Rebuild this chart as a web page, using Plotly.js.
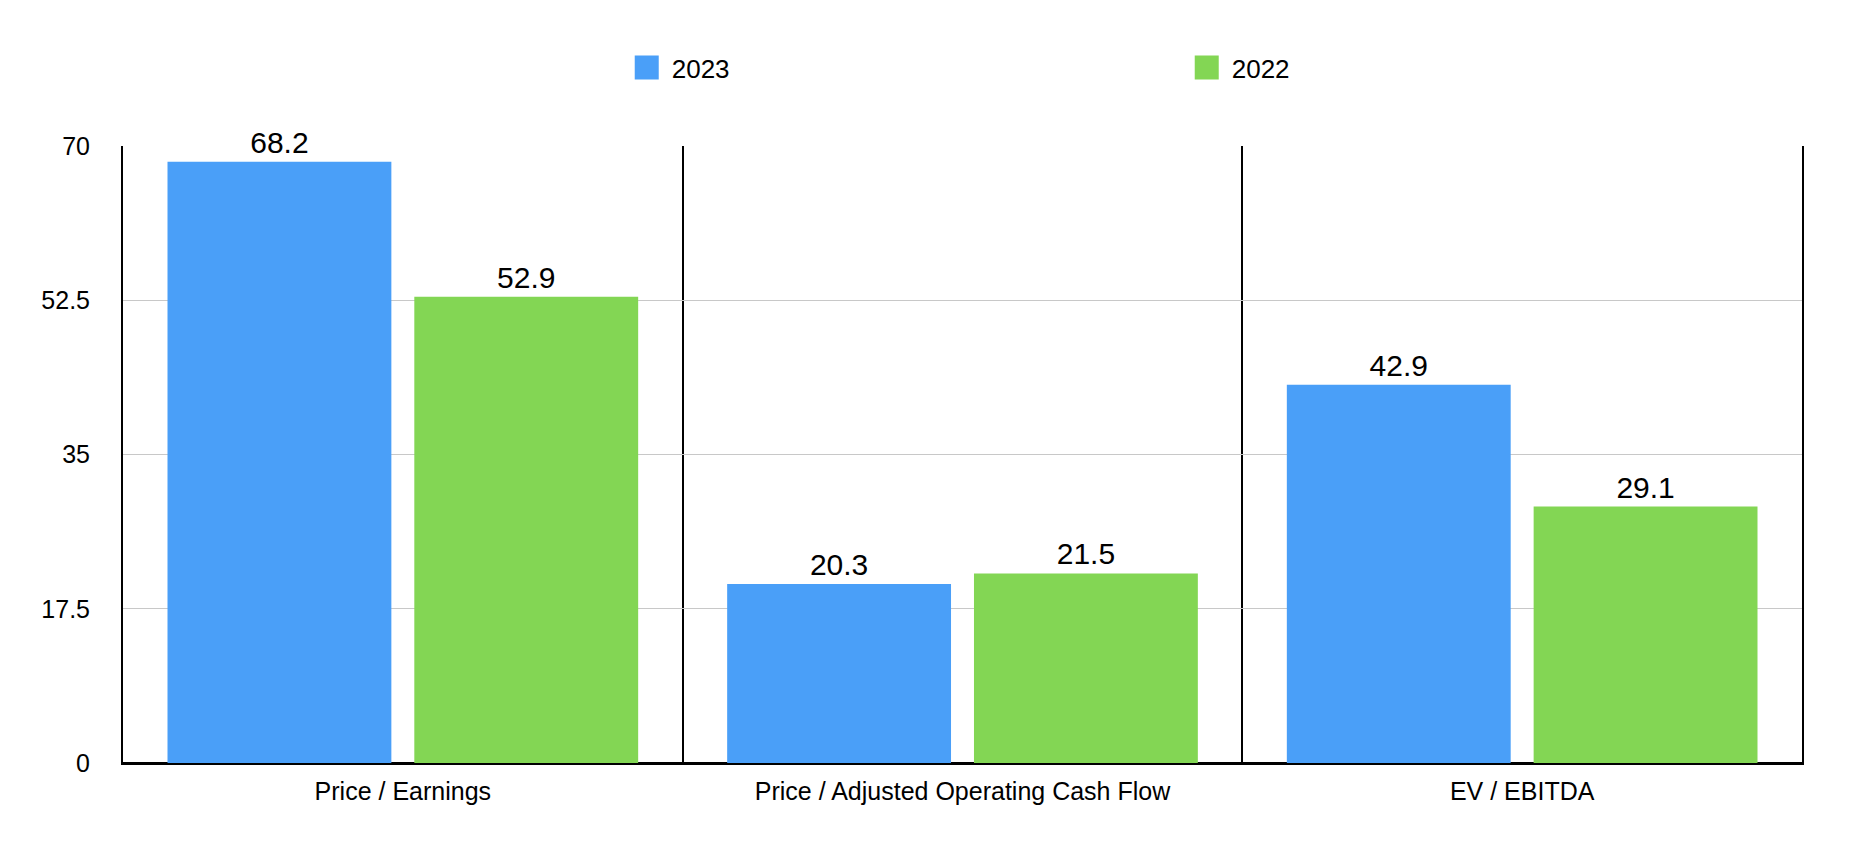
<!DOCTYPE html>
<html>
<head>
<meta charset="utf-8">
<script src="https://cdn.plot.ly/plotly-3.0.1.min.js"></script>
<style>
  html, body { margin: 0; padding: 0; background: #fff; }
  #chart { width: 1874px; height: 864px; }
  /* bigger legend swatches, like the original */
  #chart .legendpoints path { transform: translate(15px, 0px) scale(2); }
</style>
</head>
<body>
<div id="chart"></div>
<script>
'use strict';

// categories and values
var categories = ['Price / Earnings', 'Price / Adjusted Operating Cash Flow', 'EV / EBITDA'];
var values2023 = [68.2, 20.3, 42.9];
var values2022 = [52.9, 21.5, 29.1];
var yTicks = [0, 17.5, 35, 52.5, 70];

var blue = '#4a9ff8';
var green = '#83d654';
var font = 'Liberation Sans, Arial, Helvetica, sans-serif';

function barTrace(name, values, color) {
	return {
		type: 'bar',
		name: name,
		x: categories,
		y: values,
		marker: { color: color },
		text: values,
		texttemplate: '%{y:.1f}',
		textposition: 'outside',
		textfont: { family: font, size: 30, color: '#000' },
		cliponaxis: false,
		hoverinfo: 'skip'
	};
}

var data = [
	barTrace('2023', values2023, blue),
	barTrace('2022', values2022, green)
];

var layout = {
	width: 1874,
	height: 864,
	margin: { l: 123, r: 72, t: 146, b: 101 },
	paper_bgcolor: '#fff',
	plot_bgcolor: '#fff',
	font: { family: font, size: 25, color: '#000' },
	barmode: 'group',
	bargap: 0.118,
	bargroupgap: 0.093,
	showlegend: true,
	legend: {
		orientation: 'h',
		x: 0.303,
		xanchor: 'left',
		y: 1.127,
		yanchor: 'middle',
		entrywidth: 515,
		entrywidthmode: 'pixels',
		font: { family: font, size: 26, color: '#000' },
		traceorder: 'normal'
	},
	xaxis: {
		type: 'category',
		tickson: 'boundaries',
		showgrid: true,
		gridcolor: '#000',
		gridwidth: 2,
		showline: true,
		linecolor: '#000',
		linewidth: 2,
		ticks: '',
		ticklabelstandoff: 5,
		tickfont: { family: font, size: 25, color: '#000' }
	},
	yaxis: {
		range: [0, 70],
		tickvals: yTicks,
		showgrid: true,
		gridcolor: '#c8c8c8',
		gridwidth: 1,
		zeroline: true,
		zerolinecolor: '#000',
		zerolinewidth: 2,
		showline: true,
		mirror: true,
		linecolor: '#000',
		linewidth: 2,
		ticks: '',
		ticklabelstandoff: 26,
		tickfont: { family: font, size: 25, color: '#000' }
	}
};

Plotly.newPlot('chart', data, layout, { staticPlot: true });
</script>
</body>
</html>
